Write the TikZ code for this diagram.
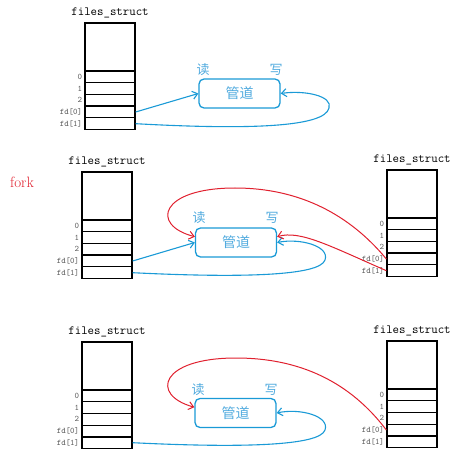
\documentclass[tikz,border=0pt]{standalone}
\usepackage{fontspec}
\newfontfamily\cjkfont{Noto Sans CJK SC}
\usetikzlibrary{positioning}
\usetikzlibrary{arrows.meta}
\definecolor{pipeblue}{RGB}{26,154,214}
\definecolor{textblue}{RGB}{80,170,222}
\definecolor{forkred}{RGB}{224,32,46}
\definecolor{labgray}{RGB}{90,90,90}

\tikzset{
  topcell/.style={draw,line width=1.3pt,minimum width=50pt,minimum height=48pt,inner sep=0pt},
  slot/.style={draw,line width=1.3pt,minimum width=50pt,minimum height=11.7pt,inner sep=0pt},
  fdlab/.style={font=\ttfamily\fontsize{8.5}{9}\selectfont,text=labgray,inner sep=2pt},
  tabtitle/.style={font=\ttfamily\fontsize{12.5}{14}\selectfont},
  pipe/.style={draw=pipeblue,line width=1.3pt,rounded corners=5pt,minimum width=81pt,minimum height=29pt,inner sep=0pt,font=\cjkfont\fontsize{14}{16}\selectfont,text=textblue},
  rw/.style={font=\cjkfont\fontsize{13}{15}\selectfont,text=textblue},
  bluearr/.style={draw=pipeblue,line width=1.1pt,-{Straight Barb[length=5pt,width=8pt]}},
  redarr/.style={draw=forkred,line width=1pt,-{Straight Barb[length=5pt,width=8pt]}},
}

\begin{document}
\begin{tikzpicture}[x=1pt,y=-1pt]
\useasboundingbox (0,0) rectangle (474,465);

% --- before fork
\node (t1top) at (110,47) [topcell] {};
\node (t1s0) at (110,76.9) [slot,label={[fdlab]left:0}] {};
\node (t1s1) at (110,88.6) [slot,label={[fdlab]left:1}] {};
\node (t1s2) at (110,100.3) [slot,label={[fdlab]left:2}] {};
\node (t1fd0) at (110,112) [slot,label={[fdlab]left:fd[0]}] {};
\node (t1fd1) at (110,123.7) [slot,label={[fdlab]left:fd[1]}] {};
\node (t1title) [tabtitle,above=1pt of t1top] {files\_struct};

\node (p1) at (239.5,93.5) [pipe] {管道};
\node (p1r) at (203,70) [rw] {读};
\node (p1w) at (276,70) [rw] {写};
\coordinate (b1) at (329,108);

  \draw[bluearr] (t1fd0.east) -- (p1.west);
  \draw[bluearr] (t1fd1.east) .. controls (250,130) and (325,127) .. (b1) .. controls (333,96) and (305,90) .. (p1.east);

% --- after fork
\node (fork) at (22,182) [text=forkred,font=\fontsize{15}{17}\selectfont] {fork};

\node (t2top) at (107,196) [topcell] {};
\node (t2s0) at (107,225.9) [slot,label={[fdlab]left:0}] {};
\node (t2s1) at (107,237.6) [slot,label={[fdlab]left:1}] {};
\node (t2s2) at (107,249.3) [slot,label={[fdlab]left:2}] {};
\node (t2fd0) at (107,261) [slot,label={[fdlab]left:fd[0]}] {};
\node (t2fd1) at (107,272.7) [slot,label={[fdlab]left:fd[1]}] {};
\node (t2title) [tabtitle,above=1pt of t2top] {files\_struct};

\node (u2top) at (412,194) [topcell] {};
\node (u2s0) at (412,223.9) [slot,label={[fdlab]left:0}] {};
\node (u2s1) at (412,235.6) [slot,label={[fdlab]left:1}] {};
\node (u2s2) at (412,247.3) [slot,label={[fdlab]left:2}] {};
\node (u2fd0) at (412,259) [slot,label={[fdlab]left:fd[0]}] {};
\node (u2fd1) at (412,270.7) [slot,label={[fdlab]left:fd[1]}] {};
\node (u2title) [tabtitle,above=1pt of u2top] {files\_struct};

\node (p2) at (236,242.5) [pipe] {管道};
\node (p2r) at (199,218) [rw] {读};
\node (p2w) at (272,218) [rw] {写};
\coordinate (b2) at (325,260);
\coordinate (r2) at (235,188);

  \draw[bluearr] (t2fd0.east) -- (p2.west);
  \draw[bluearr] (t2fd1.east) .. controls (240,278) and (320,276) .. (b2) .. controls (330,246) and (300,238) .. (p2.east);
  \draw[redarr] (u2fd0.west) .. controls (350,215) and (300,188) .. (r2) .. controls (160,188) and (150,225) .. (p2.172);
  \draw[redarr] (u2fd1.west) .. controls (330,246) and (300,230) .. (p2.8);

% --- after closing ends
\node (t3top) at (107,366) [topcell] {};
\node (t3s0) at (107,395.9) [slot,label={[fdlab]left:0}] {};
\node (t3s1) at (107,407.6) [slot,label={[fdlab]left:1}] {};
\node (t3s2) at (107,419.3) [slot,label={[fdlab]left:2}] {};
\node (t3fd0) at (107,431) [slot,label={[fdlab]left:fd[0]}] {};
\node (t3fd1) at (107,442.7) [slot,label={[fdlab]left:fd[1]}] {};
\node (t3title) [tabtitle,above=1pt of t3top] {files\_struct};

\node (u3top) at (412,365) [topcell] {};
\node (u3s0) at (412,394.9) [slot,label={[fdlab]left:0}] {};
\node (u3s1) at (412,406.6) [slot,label={[fdlab]left:1}] {};
\node (u3s2) at (412,418.3) [slot,label={[fdlab]left:2}] {};
\node (u3fd0) at (412,430) [slot,label={[fdlab]left:fd[0]}] {};
\node (u3fd1) at (412,441.7) [slot,label={[fdlab]left:fd[1]}] {};
\node (u3title) [tabtitle,above=1pt of u3top] {files\_struct};

\node (p3) at (235.5,413) [pipe] {管道};
\node (p3r) at (198,390) [rw] {读};
\node (p3w) at (271,390) [rw] {写};
\coordinate (b3) at (325,430);
\coordinate (r3) at (236,358);

  \draw[bluearr] (t3fd1.east) .. controls (240,448) and (320,446) .. (b3) .. controls (330,416) and (300,408) .. (p3.east);
  \draw[redarr] (u3fd0.west) .. controls (350,382) and (300,358) .. (r3) .. controls (160,358) and (150,395) .. (p3.172);
\end{tikzpicture}
\end{document}
